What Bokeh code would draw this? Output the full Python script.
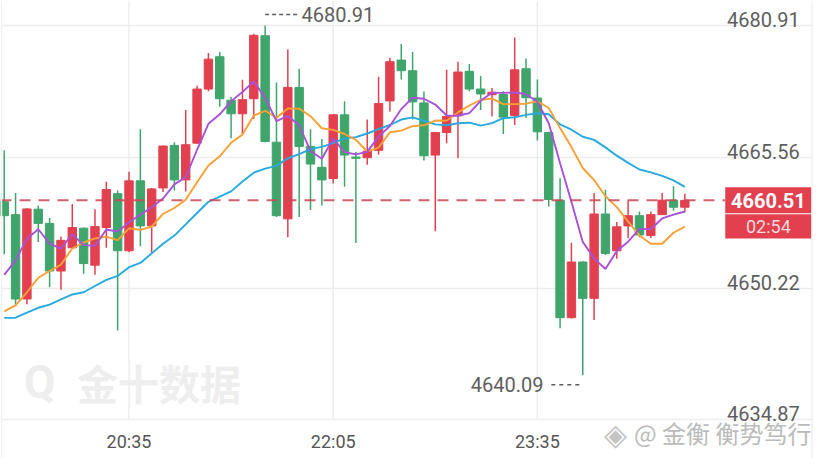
import numpy as np
from bokeh.plotting import figure
from bokeh.models import FixedTicker, Range1d, ColumnDataSource, Span
from bokeh.core.properties import value
from bokeh.embed import file_html
from bokeh.resources import INLINE

# ---------------- data (5-minute candles) ----------------
opens = [4660.34, 4658.83, 4648.98, 4659.47, 4657.81, 4652.25, 4654.96, 4657.25, 4652.93, 4657.33,
         4661.28, 4654.62, 4662.78, 4657.52, 4661.95, 4666.92, 4662.89, 4667.18, 4673.50, 4677.27,
         4672.19, 4670.61, 4672.37, 4679.73, 4667.29, 4658.34, 4673.69, 4666.80, 4664.36, 4663.05,
         4670.49, 4665.56, 4665.48, 4666.35, 4672.11, 4676.88, 4675.64, 4671.88, 4665.79, 4668.42,
         4670.38, 4675.57, 4673.50, 4672.84, 4672.86, 4670.42, 4675.87, 4672.45, 4668.42, 4660.52,
         4646.80, 4653.30, 4649.06, 4658.91, 4654.62, 4657.52, 4658.71, 4656.39, 4658.83, 4660.52,
         4659.70]
highs = [4666.35, 4661.35, 4659.58, 4659.89, 4658.45, 4656.28, 4660.07, 4657.33, 4659.47, 4662.66,
         4661.65, 4663.84, 4668.80, 4661.95, 4666.92, 4667.29, 4671.06, 4673.88, 4677.72, 4677.83,
         4672.56, 4674.59, 4679.97, 4680.91, 4674.25, 4678.12, 4675.87, 4668.80, 4667.67, 4670.55,
         4672.07, 4666.16, 4669.93, 4674.93, 4677.15, 4678.77, 4677.83, 4673.20, 4668.47, 4675.75,
         4676.70, 4676.43, 4675.01, 4673.61, 4673.24, 4679.52, 4677.07, 4674.62, 4668.50, 4663.08,
         4655.55, 4653.40, 4661.35, 4661.73, 4657.97, 4660.45, 4659.21, 4659.21, 4661.35, 4662.14,
         4661.28]
lows = [4654.20, 4648.30, 4648.38, 4655.63, 4650.36, 4650.07, 4654.90, 4651.94, 4651.80, 4654.96,
        4645.29, 4654.43, 4655.15, 4654.31, 4661.47, 4661.65, 4661.54, 4667.11, 4673.24, 4671.43,
        4667.74, 4668.24, 4670.00, 4667.30, 4658.57, 4656.20, 4658.57, 4659.39, 4659.89, 4662.48,
        4662.10, 4655.52, 4664.66, 4665.87, 4670.87, 4674.62, 4669.93, 4665.15, 4656.88, 4667.18,
        4665.42, 4673.24, 4671.06, 4670.30, 4668.24, 4669.29, 4670.11, 4667.48, 4659.78, 4645.56,
        4646.70, 4640.09, 4646.53, 4654.13, 4653.68, 4656.09, 4656.20, 4656.12, 4658.80, 4659.28,
        4659.10]
closes = [4658.71, 4648.98, 4659.50, 4657.81, 4652.25, 4655.83, 4657.33, 4653.12, 4657.44, 4661.76,
          4654.62, 4662.78, 4657.52, 4661.84, 4666.84, 4662.89, 4667.00, 4673.50, 4676.99, 4672.37,
          4670.61, 4672.26, 4679.78, 4667.37, 4658.71, 4673.69, 4666.80, 4664.74, 4662.89, 4670.49,
          4665.79, 4665.42, 4666.24, 4671.80, 4676.70, 4675.64, 4672.00, 4665.71, 4668.42, 4670.30,
          4675.49, 4673.50, 4672.93, 4673.12, 4670.22, 4675.75, 4672.48, 4668.50, 4660.60, 4646.80,
          4653.30, 4649.06, 4658.91, 4654.31, 4657.41, 4658.71, 4656.46, 4658.83, 4660.52, 4659.70,
          4660.51]

# moving-average lines as drawn (purple, orange, blue)
ma_purple = [4651.80, 4653.49, 4656.03, 4657.13, 4655.45, 4654.87, 4656.54, 4655.27, 4655.19, 4657.10,
             4656.85, 4657.94, 4658.82, 4659.70, 4660.72, 4662.37, 4663.22, 4666.41, 4669.44, 4670.55,
             4672.09, 4673.15, 4674.40, 4672.48, 4669.75, 4670.36, 4669.27, 4666.26, 4665.37, 4667.72,
             4666.14, 4665.87, 4666.17, 4667.95, 4669.19, 4671.16, 4672.48, 4672.37, 4671.69, 4670.41,
             4670.38, 4670.68, 4672.13, 4673.07, 4673.05, 4673.10, 4672.90, 4672.01, 4669.51, 4664.83,
             4660.34, 4655.65, 4653.73, 4652.48, 4654.60, 4655.68, 4657.16, 4657.14, 4658.39, 4658.84,
             4659.20]
ma_orange = [4647.54, 4648.24, 4649.77, 4651.46, 4652.25, 4653.00, 4654.88, 4655.58, 4656.05, 4656.27,
             4655.86, 4657.24, 4657.05, 4657.45, 4658.91, 4659.61, 4660.58, 4662.62, 4664.57, 4665.64,
             4667.23, 4668.18, 4670.41, 4670.96, 4670.15, 4671.23, 4671.21, 4670.33, 4668.92, 4668.73,
             4668.25, 4667.57, 4666.21, 4666.66, 4668.46, 4668.65, 4669.17, 4669.27, 4669.82, 4669.80,
             4670.77, 4671.58, 4672.25, 4672.38, 4671.73, 4671.74, 4671.79, 4672.07, 4671.29, 4668.94,
             4666.72, 4664.28, 4662.87, 4660.99, 4659.71, 4658.01, 4656.41, 4655.44, 4655.43, 4656.72,
             4657.44]
ma_blue = [4646.78, 4646.80, 4647.40, 4647.96, 4648.33, 4648.94, 4649.51, 4649.77, 4650.50, 4651.21,
           4651.68, 4652.70, 4653.19, 4654.31, 4655.44, 4656.39, 4657.70, 4659.02, 4660.34, 4660.95,
           4661.55, 4662.71, 4663.73, 4664.21, 4664.53, 4665.42, 4665.89, 4666.48, 4666.75, 4667.18,
           4667.74, 4667.88, 4668.31, 4668.81, 4669.30, 4669.94, 4670.19, 4669.80, 4669.37, 4669.27,
           4669.51, 4669.57, 4669.23, 4669.52, 4670.09, 4670.20, 4670.48, 4670.67, 4670.56, 4669.37,
           4668.75, 4667.93, 4667.56, 4666.69, 4665.72, 4664.88, 4664.10, 4663.76, 4663.36, 4662.83,
           4662.08]

price_ticks = [4680.91, 4665.56, 4650.22, 4634.87]
price_labels = ["4680.91", "4665.56", "4650.22", "4634.87"]
time_ticks = [11, 29, 47]
time_labels = ["20:35", "22:05", "23:35"]
countdown = "02:54"
watermark = "金十数据"
credit = "@ 金衡 衡势笃行"

# ---------------- style ----------------
RED = "#E2404F"
GREEN = "#3FA56B"
PURPLE = "#A851D9"
ORANGE = "#F9A035"
BLUE = "#27A9E1"
GRID = "#EDEDED"
TXT = "#5E5E5E"
FONT = "Roboto"
CJK = "Noto Sans CJK SC"

W, H = 813, 458
REF_W, REF_H = 829, 474        # reference canvas
Y1 = 4683.84                   # price at the top edge
REF_PX = 434.0 / (Y1 - price_ticks[-1])   # reference pixels per price unit
REF_DX = 11.567                # reference pixels per candle
X_OFF = 3.8                    # reference x of the first candle


def xd(px):   # reference x pixel -> candle index
    return (px - X_OFF) / REF_DX


def yd(py):   # reference y pixel -> price
    return Y1 - py / REF_PX


p = figure(width=W, height=H, output_backend="svg", toolbar_location=None,
           x_range=Range1d(xd(0), xd(REF_W)), y_range=Range1d(yd(REF_H), Y1),
           x_axis_location=None, y_axis_location=None,
           min_border_left=0, min_border_right=0, min_border_top=0, min_border_bottom=0)
p.background_fill_color = "white"
p.border_fill_color = "white"
p.outline_line_color = None
p.xgrid.visible = False
p.ygrid.ticker = FixedTicker(ticks=price_ticks)
p.ygrid.grid_line_color = GRID
p.ygrid.grid_line_width = 1.5

# vertical time grid lines (stop at the bottom price line)
p.segment(x0=time_ticks, y0=[price_ticks[-1]] * 3, x1=time_ticks, y1=[Y1] * 3,
          line_color=GRID, line_width=1.5)
# left / right frame edges
p.add_layout(Span(location=xd(1), dimension="height", line_color="#F0F0F0", line_width=1.5))
p.add_layout(Span(location=xd(827.5), dimension="height", line_color="#F0F0F0", line_width=1.5))

# time labels
p.text(x=time_ticks, y=[yd(456.5)] * 3, text=time_labels, text_font=value(FONT),
       text_font_size="18px", text_color="#555555", text_align="center", text_baseline="middle")

# watermark (behind everything)
p.text(x=[xd(40)], y=[yd(395)], text=["Q"], text_font=value(FONT),
       text_font_style="bold", text_font_size="46px", text_color="#EEEEEE",
       text_align="center", text_baseline="middle")
p.text(x=[xd(78)], y=[yd(395)], text=[watermark],
       text_font=value(CJK), text_font_style="bold", text_font_size="41px",
       text_color="#EEEEEE", text_align="left", text_baseline="middle")

# credit watermark bottom right
p.text(x=[xd(627)], y=[yd(447)], text=["◈"], text_font=value(CJK), text_font_size="30px",
       text_color="#C4C4C4", text_align="center", text_baseline="middle")
p.text(x=[xd(646)], y=[yd(447)], text=[credit], text_font=value(CJK), text_font_size="24px",
       text_color="#BBBBBB", text_align="left", text_baseline="middle")

# right price labels
p.text(x=[xd(815)] * len(price_ticks), y=price_ticks, text=price_labels,
       text_font=value(FONT), text_font_size="20px", text_color=TXT,
       text_align="right", text_baseline="alphabetic", y_offset=-6)

# candles
o = np.array(opens); c = np.array(closes)
idx = np.arange(len(closes))
src = ColumnDataSource(dict(
    x=idx, high=highs, low=lows, top=np.maximum(o, c), bottom=np.minimum(o, c),
    color=np.where(c >= o, RED, GREEN)))
p.segment(x0="x", y0="high", x1="x", y1="low", line_color="color", line_width=1.5, source=src)
p.vbar(x="x", width=0.74, top="top", bottom="bottom", fill_color="color",
       line_color="color", line_width=1, source=src)

# moving averages
p.line(idx, ma_blue, line_color=BLUE, line_width=1.9)
p.line(idx, ma_orange, line_color=ORANGE, line_width=1.9)
p.line(idx, ma_purple, line_color=PURPLE, line_width=1.9)

# last price dashed line + label box
last = closes[-1]
box_l, box_r = xd(739), xd(827)
p.segment(x0=[xd(0)], y0=[last], x1=[box_l], y1=[last], line_color="#C94653",
          line_alpha=0.85, line_width=2, line_dash="11 8")
p.quad(left=[box_l], right=[box_r], top=[last + 13.5 / REF_PX], bottom=[last - 13.5 / REF_PX],
       fill_color=RED, line_color=None)
p.quad(left=[box_l], right=[box_r], top=[last - 14.5 / REF_PX], bottom=[last - 39.5 / REF_PX],
       fill_color=RED, line_color=None)
p.text(x=[(box_l + box_r) / 2], y=[last], text=[f"{last:.2f}"], text_font=value(FONT),
       text_font_size="20px", text_font_style="bold", text_color="white",
       text_align="center", text_baseline="middle")
p.text(x=[(box_l + box_r) / 2], y=[last - 27 / REF_PX], text=[countdown], text_font=value(FONT),
       text_font_size="18px", text_color="#FCD9DD", text_align="center", text_baseline="middle")

# high / low markers
ih = int(np.argmax(highs)); il = int(np.argmin(lows))
hy = highs[ih] + 11.5 / REF_PX
p.segment(x0=[ih], y0=[hy], x1=[ih + 35 / REF_DX], y1=[hy], line_color=TXT,
          line_width=1.5, line_dash="4 3")
p.text(x=[ih + 37 / REF_DX], y=[hy], text=[f"{highs[ih]:.2f}"], text_font=value(FONT),
       text_font_size="20px", text_color=TXT, text_align="left", text_baseline="middle")
ly = lows[il] - 10 / REF_PX
p.segment(x0=[il - 3.5 / REF_DX], y0=[ly], x1=[il - 33 / REF_DX], y1=[ly], line_color=TXT,
          line_width=1.5, line_dash="4 4")
p.text(x=[il - 40 / REF_DX], y=[ly], text=[f"{lows[il]:.2f}"], text_font=value(FONT),
       text_font_size="20px", text_color=TXT, text_align="right", text_baseline="middle")

open("out.html", "w").write(file_html(p, INLINE))
